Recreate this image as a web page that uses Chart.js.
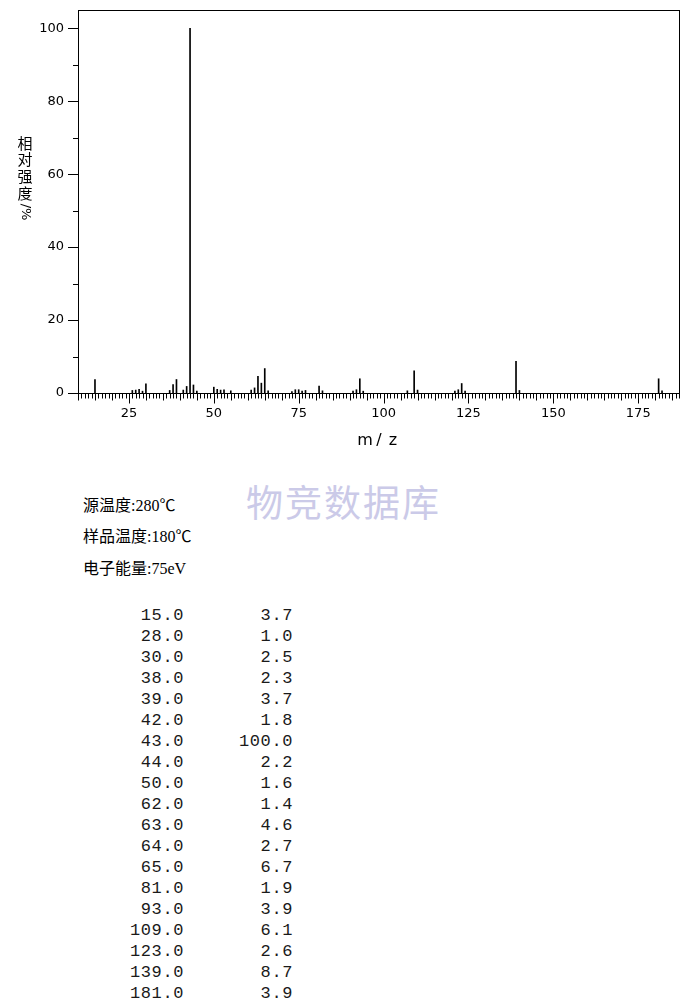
<!DOCTYPE html>
<html>
<head>
<meta charset="utf-8">
<script src="https://cdn.jsdelivr.net/npm/chart.js@4"></script>
<style>
  body { margin: 0; background: #fff; width: 687px; height: 999px; position: relative; overflow: hidden; }
  #chartBox { position: absolute; left: 0; top: 0; width: 687px; height: 460px; }
  .info { position: absolute; left: 83px; font: 16px "Liberation Serif", "Noto Sans CJK SC", serif; color: #000; }
  #mark { position: absolute; left: 246px; top: 474px; font: 37px "Noto Sans CJK SC", sans-serif; color: #cbcae8; letter-spacing: 2px; }
  .cell { position: absolute; text-align: right; font: 17px "Liberation Mono", monospace; color: #1a1a1a; line-height: 21px; letter-spacing: 0.6px; }
</style>
</head>
<body>
<div id="chartBox"><canvas id="msChart" width="687" height="460"></canvas></div>
<div id="mark">物竞数据库</div>
<div class="info" style="top:492px">源温度:280℃</div>
<div class="info" style="top:523px">样品温度:180℃</div>
<div class="info" style="top:555px">电子能量:75eV</div>
<div id="table"></div>
<script>
// peaks drawn in the spectrum (m/z and relative intensity %)
const peakMz  = [15, 26, 27, 28, 29, 30, 37, 38, 39, 41, 42, 43, 44, 45, 50, 51, 52, 53, 55,
                 61, 62, 63, 64, 65, 66, 73, 74, 75, 76, 77, 81, 82, 91, 92, 93, 94,
                 107, 109, 110, 121, 122, 123, 124, 139, 140, 181, 182];
const peakInt = [3.7, 0.7, 0.8, 1.0, 0.5, 2.5, 0.7, 2.3, 3.7, 0.8, 1.8, 100.0, 2.2, 0.5, 1.6, 1.0, 0.8, 0.9, 0.6,
                 0.8, 1.4, 4.6, 2.7, 6.7, 0.6, 0.4, 0.9, 0.9, 0.5, 0.7, 1.9, 0.6, 0.5, 0.9, 3.9, 0.5,
                 0.6, 6.1, 0.8, 0.5, 0.9, 2.6, 0.5, 8.7, 0.7, 3.9, 0.6];

// listed peak table below the chart
const tableMz  = [15.0, 28.0, 30.0, 38.0, 39.0, 42.0, 43.0, 44.0, 50.0, 62.0, 63.0, 64.0, 65.0, 81.0, 93.0, 109.0, 123.0, 139.0, 181.0];
const tableInt = [3.7, 1.0, 2.5, 2.3, 3.7, 1.8, 100.0, 2.2, 1.6, 1.4, 4.6, 2.7, 6.7, 1.9, 3.9, 6.1, 2.6, 8.7, 3.9];

// axis ticks
const yMajor = [0, 20, 40, 60, 80, 100];
const yMinor = [10, 30, 50, 70, 90];
const xLabels = [25, 50, 75, 100, 125, 150, 175];
const xMin = 10, xMax = 187;

// build the table
const table = document.getElementById('table');
tableMz.forEach((mz, i) => {
    const top = 605 + i * 21;
    const a = document.createElement('div');
    a.className = 'cell';
    a.style.cssText = `top:${top}px; left:100px; width:84px;`;
    a.textContent = mz.toFixed(1);
    const b = document.createElement('div');
    b.className = 'cell';
    b.style.cssText = `top:${top}px; left:200px; width:93px;`;
    b.textContent = tableInt[i].toFixed(1);
    table.appendChild(a);
    table.appendChild(b);
});

// draws frame, ticks, labels and titles from the chart's scales
const axisPlugin = {
    id: 'axisPlugin',
    afterDatasetsDraw(chart) {
        const ctx = chart.ctx;
        const area = chart.chartArea;
        const xs = chart.scales.x;
        const ys = chart.scales.y;
        ctx.save();
        ctx.strokeStyle = '#000';
        ctx.lineWidth = 1;

        // frame
        ctx.strokeRect(Math.round(area.left) + 0.5, Math.round(area.top) + 0.5,
            Math.round(area.right - area.left), Math.round(area.bottom - area.top));

        // y ticks
        ctx.beginPath();
        yMajor.forEach(v => {
            const y = Math.round(ys.getPixelForValue(v)) + 0.5;
            ctx.moveTo(area.left - 10, y);
            ctx.lineTo(area.left, y);
        });
        yMinor.forEach(v => {
            const y = Math.round(ys.getPixelForValue(v)) + 0.5;
            ctx.moveTo(area.left - 5, y);
            ctx.lineTo(area.left, y);
        });
        ctx.stroke();

        ctx.fillStyle = '#000';
        ctx.font = '13px "DejaVu Sans"';
        ctx.textAlign = 'right';
        ctx.textBaseline = 'middle';
        yMajor.forEach(v => {
            ctx.fillText(String(v), area.left - 14, ys.getPixelForValue(v));
        });

        // x ticks
        const bottom = Math.round(area.bottom) + 0.5;
        ctx.beginPath();
        for (let v = Math.ceil(xMin); v <= xMax; v++) {
            const x = Math.round(xs.getPixelForValue(v)) + 0.5;
            let len = 5;
            if (v % 25 === 0) len = 10;
            else if (v % 5 === 0) len = 7;
            ctx.moveTo(x, bottom);
            ctx.lineTo(x, bottom + len);
        }
        ctx.stroke();

        ctx.textAlign = 'center';
        xLabels.forEach(v => {
            ctx.fillText(String(v), xs.getPixelForValue(v), area.bottom + 21);
        });

        // x title
        ctx.font = '16px "DejaVu Sans"';
        const titleChars = ['m', '/', 'z'];
        const titleX = [365, 379, 393];
        titleChars.forEach((c, i) => ctx.fillText(c, titleX[i], 441));

        // y title, stacked characters
        ctx.font = '15px "Noto Sans CJK SC"';
        const yTitle = ['相', '对', '强', '度'];
        const yTitleY = [143, 159, 176, 193];
        yTitle.forEach((c, i) => ctx.fillText(c, 25, yTitleY[i]));
        ctx.translate(25, 212);
        ctx.rotate(Math.PI / 2);
        ctx.font = '13px "DejaVu Sans"';
        ctx.fillText('/%', 0, 0);
        ctx.restore();
    }
};

const ctx = document.getElementById('msChart').getContext('2d');
new Chart(ctx, {
    type: 'bar',
    data: {
        datasets: [{
            data: peakMz.map((m, i) => ({ x: m, y: peakInt[i] })),
            backgroundColor: '#000',
            borderWidth: 0,
            barThickness: 1,
        }]
    },
    options: {
        responsive: false,
        animation: false,
        layout: { padding: { left: 78, top: 10, right: 8, bottom: 67 } },
        plugins: { legend: { display: false }, tooltip: { enabled: false } },
        scales: {
            x: { type: 'linear', min: xMin, max: xMax, display: false, offset: false },
            y: { min: 0, max: 105, display: false }
        }
    },
    plugins: [axisPlugin]
});
</script>
</body>
</html>
